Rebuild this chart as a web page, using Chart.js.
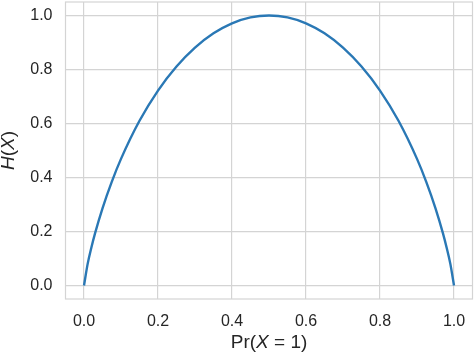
<!DOCTYPE html>
<html>
<head>
<meta charset="utf-8">
<script src="https://cdn.jsdelivr.net/npm/chart.js@4"></script>
<style>
  html, body { margin: 0; padding: 0; background: #fff; }
  #wrap { width: 474px; height: 353px; }
</style>
</head>
<body>
<div id="wrap"><canvas id="chart"></canvas></div>
<script>
// probability of X = 1 and the entropy
const probX = [0, 0.01, 0.02, 0.03, 0.05, 0.075, 0.1, 0.15, 0.2, 0.25, 0.3, 0.35, 0.4, 0.45, 0.5,
               0.55, 0.6, 0.65, 0.7, 0.75, 0.8, 0.85, 0.9, 0.925, 0.95, 0.97, 0.98, 0.99, 1];
const entropy = [0, 0.081, 0.141, 0.194, 0.286, 0.384, 0.469, 0.610, 0.722, 0.811, 0.881, 0.934, 0.971, 0.993, 1.0,
                 0.993, 0.971, 0.934, 0.881, 0.811, 0.722, 0.610, 0.469, 0.384, 0.286, 0.194, 0.141, 0.081, 0];
const xTicks = [0, 0.2, 0.4, 0.6, 0.8, 1.0];
const yTicks = [0, 0.2, 0.4, 0.6, 0.8, 1.0];

const gridColor = '#d4d4d4';
const textColor = '#262626';
const font = 'Liberation Sans, Arial, sans-serif';

// frame + axis titles (the titles mix italic and upright letters)
const decor = {
    id: 'decor',
    beforeDatasetsDraw(chart) {
        const { ctx, chartArea: a } = chart;
        ctx.save();
        ctx.strokeStyle = gridColor;
        ctx.lineWidth = 1.2;
        ctx.strokeRect(a.left, a.top, a.right - a.left, a.bottom - a.top);
        ctx.restore();
    },
    afterDraw(chart) {
        const { ctx, chartArea: a } = chart;
        const size = 19;
        const drawParts = (parts, cx, cy) => {
            let total = 0;
            parts.forEach(p => {
                ctx.font = (p[1] ? 'italic ' : '') + size + 'px ' + font;
                total += ctx.measureText(p[0]).width;
            });
            let x = cx - total / 2;
            parts.forEach(p => {
                ctx.font = (p[1] ? 'italic ' : '') + size + 'px ' + font;
                ctx.fillText(p[0], x, cy);
                x += ctx.measureText(p[0]).width;
            });
        };
        ctx.save();
        ctx.fillStyle = textColor;
        ctx.textBaseline = 'middle';
        ctx.textAlign = 'left';
        drawParts([['Pr(', false], ['X', true], [' = 1)', false]], (a.left + a.right) / 2, 343);
        ctx.translate(9, (a.top + a.bottom) / 2);
        ctx.rotate(-Math.PI / 2);
        drawParts([['H', true], ['(', false], ['X', true], [')', false]], 0, 0);
        ctx.restore();
    }
};

new Chart(document.getElementById('chart'), {
    type: 'scatter',
    data: {
        datasets: [{
            data: probX.map((p, i) => ({ x: p, y: entropy[i] })),
            showLine: true,
            borderColor: '#2a78b5',
            borderWidth: 2.4,
            pointRadius: 0,
            cubicInterpolationMode: 'monotone',
            fill: false
        }]
    },
    options: {
        responsive: true,
        maintainAspectRatio: false,
        animation: false,
        layout: { padding: { top: 2, right: 1.5, left: 0, bottom: 0 } },
        plugins: { legend: { display: false }, tooltip: { enabled: false } },
        scales: {
            x: {
                type: 'linear',
                min: -0.05,
                max: 1.05,
                afterBuildTicks: s => { s.ticks = xTicks.map(v => ({ value: v })); },
                afterFit: s => { s.height = 54; s.paddingLeft = 0; s.paddingRight = 0; },
                grid: { color: gridColor, lineWidth: 1.2, drawTicks: false },
                border: { display: false },
                ticks: {
                    padding: 13,
                    color: textColor,
                    font: { family: font, size: 16 },
                    maxRotation: 0,
                    callback: v => v.toFixed(1)
                }
            },
            y: {
                type: 'linear',
                min: -0.05,
                max: 1.05,
                afterBuildTicks: s => { s.ticks = yTicks.map(v => ({ value: v })); },
                afterFit: s => { s.width = 65.5; s.paddingTop = 0; s.paddingBottom = 0; },
                grid: { color: gridColor, lineWidth: 1.2, drawTicks: false },
                border: { display: false },
                ticks: {
                    padding: 13,
                    color: textColor,
                    font: { family: font, size: 16 },
                    callback: v => v.toFixed(1)
                }
            }
        }
    },
    plugins: [decor]
});
</script>
</body>
</html>
